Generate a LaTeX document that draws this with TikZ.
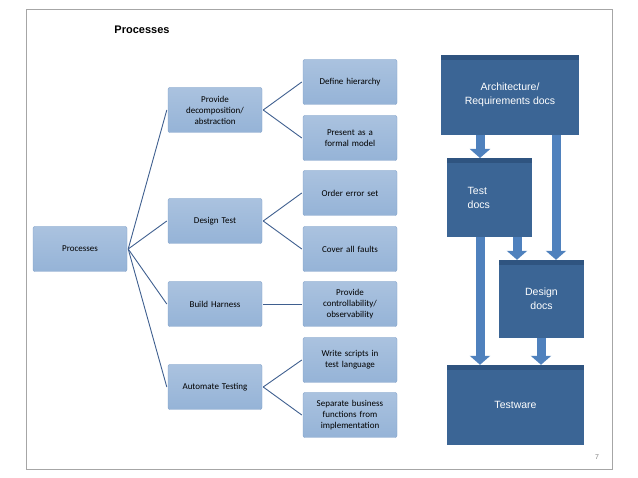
\documentclass[tikz,border=0pt]{standalone}
\usepackage{fontspec}
\setmainfont{Carlito}
\newfontfamily\arialf{Liberation Sans}
\usetikzlibrary{arrows.meta}
\definecolor{lb}{HTML}{95B3D7}
\definecolor{lbd}{HTML}{7F9FC8}
\definecolor{db}{HTML}{3B6595}
\definecolor{dbt}{HTML}{2F5480}
\definecolor{ab}{HTML}{4F81BD}
\definecolor{ln}{HTML}{3F5F8F}
\tikzset{
  pbox/.style={draw=lbd, top color=lb!80, bottom color=lb, rounded corners=2pt,
    minimum width=94pt, minimum height=45pt, align=center, font=\fontsize{9}{11}\selectfont,
    text width=88pt, inner sep=1pt},
  dbox/.style={fill=db, text=white, align=center, font=\arialf\fontsize{10.5}{14}\selectfont},
  link/.style={draw=ln, line width=0.9pt},
  fat/.style={draw=ab, line width=9pt, -{Triangle[width=20pt,length=9pt]}, shorten >=0pt}
}
\begin{document}
\begin{tikzpicture}[x=1pt,y=-1pt]
\useasboundingbox (0,0) rectangle (638,478);
\draw[gray!70, line width=1pt] (26,10) rectangle (612,470);
\node[font=\arialf\bfseries\fontsize{11}{13}\selectfont] (title) at (142,30) {Processes};
% tree
\node[pbox] (p) at (80,249) {Processes};
\node[pbox] (m1) at (215,110) {Provide\\decomposition/\\abstraction};
\node[pbox] (m2) at (215,221) {Design Test};
\node[pbox] (m3) at (215,304) {Build Harness};
\node[pbox] (m4) at (215,387) {Automate Testing};
\node[pbox] (r1) at (350,82) {Define hierarchy};
\node[pbox] (r2) at (350,138) {Present as a\\formal model};
\node[pbox] (r3) at (350,193) {Order error set};
\node[pbox] (r4) at (350,249) {Cover all faults};
\node[pbox] (r5) at (350,304) {Provide\\controllability/\\observability};
\node[pbox] (r6) at (350,360) {Write scripts in\\test language};
\node[pbox] (r7) at (350,415) {Separate business\\functions from\\implementation};
\foreach \m in {m1,m2,m3,m4} \draw[link] ([xshift=1pt]p.east) -- ([xshift=-1pt]\m.west);
\foreach \a/\b in {m1/r1,m1/r2,m2/r3,m2/r4,m3/r5,m4/r6,m4/r7}
  \draw[link] ([xshift=1pt]\a.east) -- ([xshift=-1pt]\b.west);
% document flow
\node[dbox, minimum width=138pt, minimum height=80pt] (arch) at (510,95) {Architecture/\\Requirements docs};
\node[dbox, minimum width=85pt, minimum height=79pt, anchor=north west, text width=60pt, align=left] (test) at (447,158) {\hspace{8pt}Test\\\hspace{8pt}docs};
\node[dbox, minimum width=85pt, minimum height=78pt] (design) at (541.5,299) {Design\\docs};
\node[dbox, minimum width=137pt, minimum height=80pt] (ware) at (515.5,405) {Testware};
\foreach \n in {arch,test,design,ware}
  \fill[dbt] (\n.north west) -- ([yshift=-5pt]\n.north west) -- ([yshift=-5pt]\n.north east) -- (\n.north east) -- cycle;
\draw[fat] (arch.south -| 480,0) -- (test.north -| 480,0);
\draw[fat] (arch.south -| 556,0) -- (design.north -| 556,0);
\draw[fat] (test.south -| 517,0) -- (design.north -| 517,0);
\draw[fat] (test.south -| 480,0) -- (ware.north -| 480,0);
\draw[fat] (design.south -| 541,0) -- (ware.north -| 541,0);
\node[font=\arialf\fontsize{7}{8}\selectfont, text=gray] (pg) at (597,457) {7};
\end{tikzpicture}
\end{document}
